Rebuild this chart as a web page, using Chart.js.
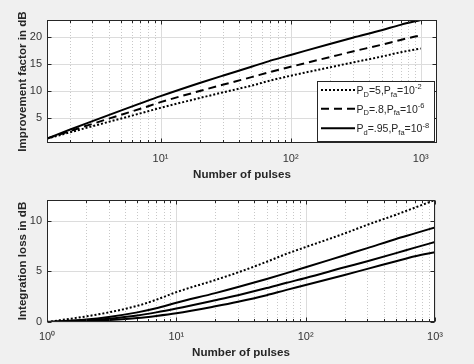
<!DOCTYPE html>
<html>
<head>
<meta charset="utf-8">
<script src="https://cdn.jsdelivr.net/npm/chart.js@4.4.0/dist/chart.umd.min.js"></script>
<style>
  html, body { margin: 0; padding: 0; background: #f0f0f0; }
  #wrap { position: relative; width: 474px; height: 364px; overflow: hidden; }
  canvas { position: absolute; left: 0; }
  #improveChart { top: 0; }
  #lossChart { top: 180px; }
</style>
</head>
<body>
<div id="wrap">
  <canvas id="improveChart" width="474" height="180"></canvas>
  <canvas id="lossChart" width="474" height="184"></canvas>
</div>
<script>
// top panel: improvement factor (dB) vs number of pulses
const pulsesTop = [1.34, 2, 3, 5, 7, 10, 20, 30, 50, 70, 100, 200, 300, 500, 700, 1000];
const gainPd5  = [1.15, 2.3, 3.46, 4.9, 5.85, 6.87, 8.7, 9.73, 11.0, 11.95, 12.84, 14.4, 15.3, 16.4, 17.2, 17.9];
const gainPd8  = [1.15, 2.52, 3.9, 5.6, 6.7, 7.93, 10.0, 11.15, 12.58, 13.55, 14.5, 16.3, 17.35, 18.6, 19.5, 20.35];
const gainPd95 = [1.15, 2.8, 4.4, 6.4, 7.7, 9.05, 11.5, 12.85, 14.5, 15.65, 16.7, 18.75, 19.9, 21.3, 22.3, 23.2];
const legendLabels = ["P_{D}=5,P_{fa}=10^{-2}", "P_{D}=.8,P_{fa}=10^{-6}", "P_{d}=.95,P_{fa}=10^{-8}"];
const yTicksTop = [5, 10, 15, 20];

// bottom panel: integration loss (dB) vs number of pulses
const pulsesBot = [1, 2, 3, 5, 7, 10, 20, 30, 50, 70, 100, 200, 300, 500, 700, 1000];
const lossDotted = [0, 0.55, 0.95, 1.6, 2.2, 2.95, 4.15, 4.9, 5.95, 6.7, 7.4, 8.75, 9.6, 10.6, 11.3, 12.05];
const lossUpper  = [0, 0.25, 0.5, 0.95, 1.35, 1.9, 2.85, 3.45, 4.25, 4.8, 5.4, 6.6, 7.3, 8.2, 8.75, 9.35];
const lossMiddle = [0, 0.15, 0.33, 0.65, 0.95, 1.33, 2.15, 2.65, 3.35, 3.85, 4.35, 5.4, 6.0, 6.8, 7.35, 7.9];
const lossLower  = [0, 0.08, 0.2, 0.4, 0.6, 0.86, 1.55, 2.0, 2.65, 3.15, 3.65, 4.65, 5.25, 6.0, 6.5, 6.9];
const yTicksBot = [0, 5, 10];

const xTickLabels = { 1: "10\u2070", 10: "10\u00b9", 100: "10\u00b2", 1000: "10\u00b3" };

Chart.defaults.font.family = "'Liberation Sans', Arial, sans-serif";
Chart.defaults.color = "#333";

const INK = "#262626";

function pts(xs, ys) {
  return xs.map((x, i) => ({ x: x, y: ys[i] }));
}

// split "P_{D}=5" style text into normal / sub / sup pieces
function texParts(s) {
  const parts = [];
  const re = /([_^])\{([^}]*)\}/g;
  let last = 0, m;
  while ((m = re.exec(s))) {
    if (m.index > last) parts.push({ t: s.slice(last, m.index), k: "" });
    parts.push({ t: m[2], k: m[1] });
    last = re.lastIndex;
  }
  if (last < s.length) parts.push({ t: s.slice(last), k: "" });
  return parts;
}

function minorValues(scale) {
  const out = [];
  for (let d = 1; d <= 1000; d *= 10) {
    for (let k = 2; k <= 9; k++) {
      const v = k * d;
      if (v > scale.min && v < scale.max) out.push(v);
    }
  }
  return out;
}

const matlabAxes = {
  id: "matlabAxes",
  beforeDatasetsDraw(chart) {
    const { ctx, chartArea: a, scales: { x, y } } = chart;
    ctx.save();
    ctx.fillStyle = "#fff";
    ctx.fillRect(a.left, a.top, a.right - a.left, a.bottom - a.top);
    ctx.lineWidth = 1;
    // minor grid, dotted
    ctx.strokeStyle = "#c8c8c8";
    ctx.setLineDash([1, 2]);
    minorValues(x).forEach(v => {
      const px = Math.round(x.getPixelForValue(v)) + 0.5;
      ctx.beginPath(); ctx.moveTo(px, a.top); ctx.lineTo(px, a.bottom); ctx.stroke();
    });
    // major grid
    ctx.setLineDash([]);
    ctx.strokeStyle = "#dcdcdc";
    x.ticks.forEach(t => {
      const px = Math.round(x.getPixelForValue(t.value)) + 0.5;
      ctx.beginPath(); ctx.moveTo(px, a.top); ctx.lineTo(px, a.bottom); ctx.stroke();
    });
    y.ticks.forEach(t => {
      const py = Math.round(y.getPixelForValue(t.value)) + 0.5;
      ctx.beginPath(); ctx.moveTo(a.left, py); ctx.lineTo(a.right, py); ctx.stroke();
    });
    ctx.restore();
  },
  afterDatasetsDraw(chart) {
    const { ctx, chartArea: a, scales: { x, y } } = chart;
    ctx.save();
    ctx.strokeStyle = INK;
    ctx.lineWidth = 1;
    const L = Math.round(a.left) + 0.5, R = Math.round(a.right) - 0.5;
    const T = Math.round(a.top) + 0.5, B = Math.round(a.bottom) - 0.5;
    ctx.strokeRect(L, T, R - L, B - T);
    ctx.beginPath();
    const vTick = (v, len) => {
      const px = Math.round(x.getPixelForValue(v)) + 0.5;
      ctx.moveTo(px, B); ctx.lineTo(px, B - len);
      ctx.moveTo(px, T); ctx.lineTo(px, T + len);
    };
    x.ticks.forEach(t => vTick(t.value, 4));
    minorValues(x).forEach(v => vTick(v, 2.5));
    y.ticks.forEach(t => {
      const py = Math.round(y.getPixelForValue(t.value)) + 0.5;
      ctx.moveTo(L, py); ctx.lineTo(L + 4, py);
      ctx.moveTo(R, py); ctx.lineTo(R - 4, py);
    });
    ctx.stroke();
    ctx.restore();
  }
};

// legend box in lower right of top panel, with sub/superscripts
const texLegend = {
  id: "texLegend",
  afterDraw(chart, args, opts) {
    if (!opts.show) return;
    const ctx = chart.ctx;
    const bx = 317.5, by = 81.5, bw = 117, bh = 60;
    const rows = [90, 108.7, 128.3];
    ctx.save();
    ctx.fillStyle = "#fff";
    ctx.fillRect(bx, by, bw, bh);
    ctx.strokeStyle = INK;
    ctx.lineWidth = 1;
    ctx.strokeRect(bx, by, bw, bh);
    chart.data.datasets.forEach((ds, i) => {
      const ry = rows[i];
      ctx.save();
      ctx.strokeStyle = ds.borderColor;
      ctx.lineWidth = ds.borderWidth;
      ctx.setLineDash(ds.borderDash || []);
      ctx.beginPath(); ctx.moveTo(321, ry); ctx.lineTo(355, ry); ctx.stroke();
      ctx.restore();
      let tx = 356.5;
      const base = ry + 4;
      ctx.fillStyle = INK;
      ctx.textBaseline = "alphabetic";
      texParts(ds.label).forEach(p => {
        let size = 10.5, dy = 0;
        if (p.k === "_") { size = 7.5; dy = 2.6; }
        if (p.k === "^") { size = 7.5; dy = -4.8; }
        ctx.font = size + "px 'Liberation Sans', Arial, sans-serif";
        ctx.fillText(p.t, tx, base + dy);
        tx += ctx.measureText(p.t).width;
      });
    });
    ctx.restore();
  }
};

function makeOptions(cfg) {
  return {
    responsive: false,
    animation: false,
    devicePixelRatio: 1,
    events: [],
    layout: { padding: { top: cfg.padTop, right: cfg.padRight, left: 0, bottom: 0 } },
    elements: { point: { radius: 0 }, line: { cubicInterpolationMode: "monotone" } },
    scales: {
      x: {
        type: "logarithmic",
        min: cfg.xMin,
        max: cfg.xMax,
        grid: { display: false, drawTicks: false },
        border: { display: false },
        afterBuildTicks: s => { s.ticks = cfg.xMajors.map(v => ({ value: v })); },
        afterFit: s => { s.height = cfg.xHeight; },
        ticks: {
          autoSkip: false, maxRotation: 0, padding: cfg.xTickPad,
          font: { size: 11 }, color: "#333",
          callback: v => xTickLabels[v] || ""
        },
        title: {
          display: true, text: "Number of pulses", color: INK,
          font: { size: 11.6, weight: "bold" },
          padding: { top: cfg.xTitlePad, bottom: cfg.xTitlePad }
        }
      },
      y: {
        min: cfg.yMin,
        max: cfg.yMax,
        grid: { display: false, drawTicks: false },
        border: { display: false },
        afterBuildTicks: s => { s.ticks = cfg.yTicks.map(v => ({ value: v })); },
        afterFit: s => { s.width = 47; },
        ticks: { padding: 5, font: { size: 11 }, color: "#333" },
        title: {
          display: true, text: cfg.yTitle, color: INK,
          font: { size: 11.6, weight: "bold" },
          padding: { top: 15.5, bottom: 15.5 }
        }
      }
    },
    plugins: {
      legend: { display: false },
      tooltip: { enabled: false },
      texLegend: { show: cfg.legend }
    }
  };
}

const line = (label, data, dash) => ({
  label: label, data: data, borderColor: "#000", borderWidth: 2,
  borderDash: dash, fill: false
});

new Chart(document.getElementById("improveChart"), {
  type: "line",
  data: {
    datasets: [
      line(legendLabels[0], pts(pulsesTop, gainPd5), [2, 2]),
      line(legendLabels[1], pts(pulsesTop, gainPd8), [8, 5]),
      line(legendLabels[2], pts(pulsesTop, gainPd95), [])
    ]
  },
  options: makeOptions({
    padTop: 20, padRight: 37, xHeight: 37, xMin: 1.341, xMax: 1334,
    xMajors: [10, 100, 1000], xTickPad: 9, xTitlePad: -1.5,
    yMin: 0.34, yMax: 23.2, yTicks: yTicksTop,
    yTitle: "Improvement factor in dB", legend: true
  }),
  plugins: [matlabAxes, texLegend]
});

new Chart(document.getElementById("lossChart"), {
  type: "line",
  data: {
    datasets: [
      line("loss (dotted)", pts(pulsesBot, lossDotted), [2, 2]),
      line("loss 1", pts(pulsesBot, lossUpper), []),
      line("loss 2", pts(pulsesBot, lossMiddle), []),
      line("loss 3", pts(pulsesBot, lossLower), [])
    ]
  },
  options: makeOptions({
    padTop: 20, padRight: 39, xHeight: 42, xMin: 1, xMax: 1000,
    xMajors: [1, 10, 100, 1000], xTickPad: 8, xTitlePad: 4,
    yMin: 0, yMax: 12.05, yTicks: yTicksBot,
    yTitle: "Integration loss in dB", legend: false
  }),
  plugins: [matlabAxes, texLegend]
});
</script>
</body>
</html>
